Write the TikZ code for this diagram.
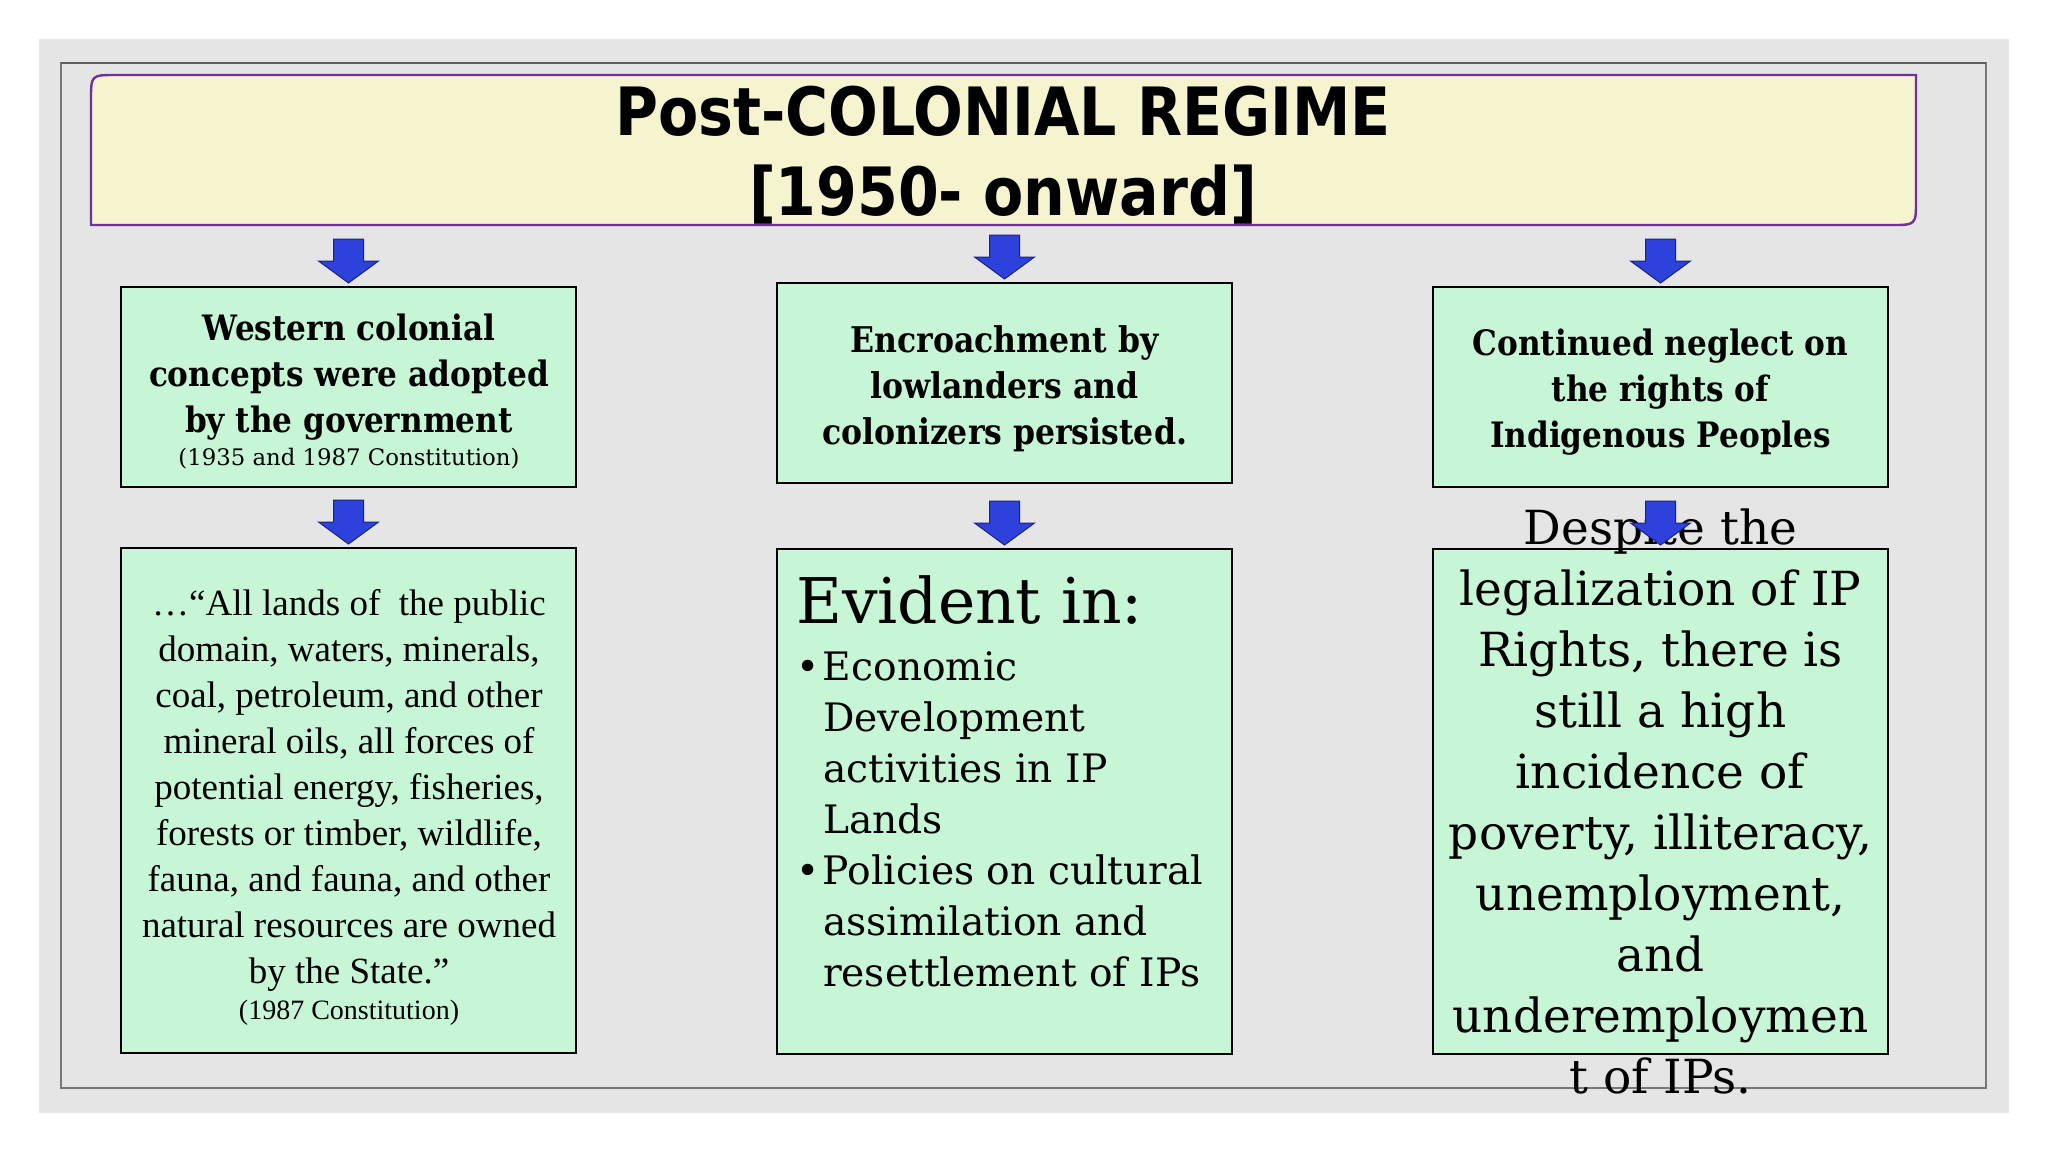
\documentclass[tikz,border=0pt]{standalone}
\usepackage{fontspec}
\setmainfont{Liberation Serif}
\newfontfamily\titlefont[FakeStretch=0.88]{DejaVu Sans}
\newfontfamily\centfont{DejaVu Serif}
\newfontfamily\centbfont[FakeStretch=0.89]{DejaVu Serif}
\newfontfamily\garafont{Liberation Serif}
\usetikzlibrary{calc}

\definecolor{bgGrey}{RGB}{229,229,229}
\definecolor{frameGrey}{RGB}{120,120,120}
\definecolor{frameTop}{RGB}{95,95,95}
\definecolor{titleFill}{RGB}{246,243,207}
\definecolor{titleLine}{RGB}{112,48,160}
\definecolor{boxFill}{RGB}{199,246,214}
\definecolor{arrowBlue}{RGB}{45,65,220}
\definecolor{arrowLine}{RGB}{25,35,130}

\newcommand\blockarr[1]{%
  \draw[barrow] ($(#1.north)+(-15,-48)$) -- ($(#1.north)+(15,-48)$) -- ($(#1.north)+(15,-26)$)
    -- ($(#1.north)+(30,-26)$) -- ($(#1.north)+(0,-4)$) -- ($(#1.north)+(-30,-26)$)
    -- ($(#1.north)+(-15,-26)$) -- cycle;}

\begin{document}
\begin{tikzpicture}[x=0.5pt,y=-0.5pt,
  greenbox/.style={draw=black, line width=1.1pt, fill=boxFill, inner sep=0pt, outer sep=0pt, anchor=north west},
  topbox/.style={greenbox, minimum width=227.5pt, minimum height=100pt},
  lowbox/.style={greenbox, minimum width=227.5pt, minimum height=252.5pt},
  txt/.style={inner sep=0pt, outer sep=0pt, anchor=base},
  barrow/.style={fill=arrowBlue, draw=arrowLine, line width=0.5pt, line join=miter}]

\useasboundingbox (0,0) rectangle (2048,1152);
\fill[white] (0,0) rectangle (2048,1152);
\fill[bgGrey] (39,39) rectangle (2009,1113);
\draw[frameGrey, line width=0.8pt] (61,63) rectangle (1986,1088);
\draw[frameTop, line width=1.4pt] (61,63) -- (1986,63);

% title
\node[inner sep=0pt, outer sep=0pt, minimum width=912.5pt, minimum height=75pt, anchor=north west] (title) at (91,75) {};
\draw[fill=titleFill, draw=titleLine, line width=1.2pt]
  (title.south west) -- ($(title.north west)+(0,25)$) .. controls (title.north west) .. ($(title.north west)+(25,0)$)
  -- (title.north east) -- ($(title.south east)+(0,-25)$) .. controls (title.south east) .. ($(title.south east)+(-25,0)$)
  -- cycle;
\node[txt] (titletext) at (1003,135) {\parbox[t]{900pt}{\centering\titlefont\bfseries\fontsize{33.3}{40}\selectfont
  Post-COLONIAL REGIME\par {[}1950- onward{]}\par}};

% boxes
\node[topbox] (t1) at (121,287) {};
\node[topbox] (t2) at (777,283) {};
\node[topbox] (t3) at (1433,287) {};
\node[lowbox] (b1) at (121,548) {};
\node[lowbox] (b2) at (777,549) {};
\node[lowbox] (b3) at (1433,549) {};

% top texts
\node[txt] (t1text) at (349,340) {\parbox[t]{226pt}{\centering
  {\centbfont\bfseries\fontsize{17.5}{23}\selectfont Western colonial\\concepts were adopted\\by the government\par}
  {\centfont\fontsize{11.4}{16.5}\selectfont (1935 and 1987 Constitution)\par}}};
\node[txt] (t2text) at (1004.5,352) {\parbox[t]{226pt}{\centering
  \centbfont\bfseries\fontsize{17.7}{23}\selectfont Encroachment by\\lowlanders and\\colonizers persisted.\par}};
\node[txt] (t3text) at (1660.5,355) {\parbox[t]{226pt}{\centering
  \centbfont\bfseries\fontsize{17.5}{23}\selectfont Continued neglect on\\the rights of\\Indigenous Peoples\par}};

% bottom texts
\node[txt] (b1text) at (349,615) {\parbox[t]{226pt}{\centering
  {\garafont\fontsize{18.5}{23}\selectfont …“All lands of\ \ the public\\domain, waters, minerals,\\coal, petroleum, and other\\mineral oils, all forces of\\potential energy, fisheries,\\forests or timber, wildlife,\\fauna, and fauna, and other\\natural resources are owned\\by the State.”\par}
  {\garafont\fontsize{14}{18}\selectfont (1987 Constitution)\par}}};

\node[txt, anchor=base west] (b2head) at (796,623) {\centfont\fontsize{31.5}{36}\selectfont Evident in:};
\node[txt, anchor=base west] (b2list) at (796,680) {\parbox[t]{220pt}{\raggedright
  \centfont\fontsize{19.6}{25.5}\selectfont
  \makebox[13.5pt][l]{•}Economic\\
  \hspace*{13.5pt}Development\\
  \hspace*{13.5pt}activities in IP\\
  \hspace*{13.5pt}Lands\\
  \makebox[13.5pt][l]{•}Policies on cultural\\
  \hspace*{13.5pt}assimilation and\\
  \hspace*{13.5pt}resettlement of IPs\par}};

\node[txt] (b3text) at (1660.5,544) {\parbox[t]{260pt}{\centering
  \centfont\fontsize{23.5}{30.55}\selectfont Despite the\\legalization of IP\\Rights, there is\\still a high\\incidence of\\poverty, illiteracy,\\unemployment,\\and\\underemploymen\\t of IPs.\par}};

% arrows
\blockarr{t1}
\blockarr{t2}
\blockarr{t3}
\blockarr{b1}
\blockarr{b2}
\blockarr{b3}
\end{tikzpicture}
\end{document}
